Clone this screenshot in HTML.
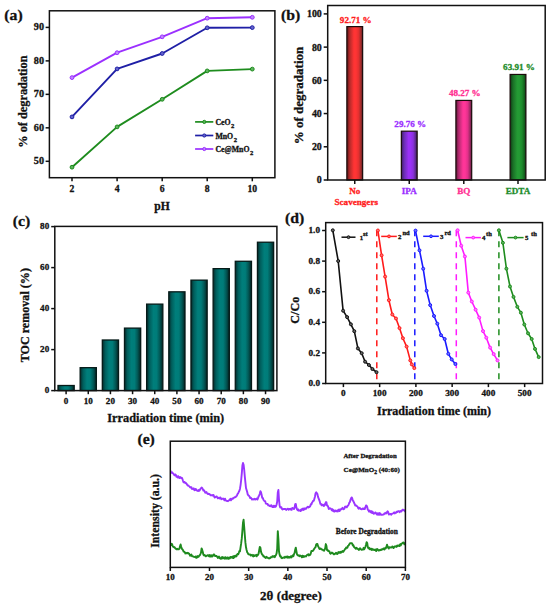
<!DOCTYPE html>
<html><head><meta charset="utf-8"><style>
html,body{margin:0;padding:0;background:#fff;}
body{width:550px;height:608px;overflow:hidden;}
svg{display:block;}
svg text{font-family:"Liberation Serif", serif;font-weight:bold;stroke-width:0.3;}
</style></head><body>
<svg width="550" height="608" viewBox="0 0 550 608">
<rect width="550" height="608" fill="#fff"/>
<defs>
<linearGradient id="g_red" x1="0" x2="1" y1="0" y2="0"><stop offset="0" stop-color="#5a1616"/><stop offset="0.18" stop-color="#b42a2a"/><stop offset="0.45" stop-color="#ff3434"/><stop offset="0.58" stop-color="#ff3434"/><stop offset="0.75" stop-color="#e23030"/><stop offset="0.9" stop-color="#9a2c2c"/><stop offset="1" stop-color="#5a1c1c"/></linearGradient>
<linearGradient id="g_pur" x1="0" x2="1" y1="0" y2="0"><stop offset="0" stop-color="#3e1c66"/><stop offset="0.18" stop-color="#6a2eb4"/><stop offset="0.45" stop-color="#9a30f6"/><stop offset="0.58" stop-color="#9a30f6"/><stop offset="0.75" stop-color="#8a30dc"/><stop offset="0.9" stop-color="#5c2a8c"/><stop offset="1" stop-color="#3a1c58"/></linearGradient>
<linearGradient id="g_pnk" x1="0" x2="1" y1="0" y2="0"><stop offset="0" stop-color="#5e1838"/><stop offset="0.18" stop-color="#b42a70"/><stop offset="0.45" stop-color="#ff3598"/><stop offset="0.58" stop-color="#ff3598"/><stop offset="0.75" stop-color="#e2308a"/><stop offset="0.9" stop-color="#9a2a62"/><stop offset="1" stop-color="#5a1a3a"/></linearGradient>
<linearGradient id="g_grn" x1="0" x2="1" y1="0" y2="0"><stop offset="0" stop-color="#0c3a12"/><stop offset="0.18" stop-color="#1a6e26"/><stop offset="0.45" stop-color="#249a34"/><stop offset="0.58" stop-color="#249a34"/><stop offset="0.75" stop-color="#1e8a2c"/><stop offset="0.9" stop-color="#15621e"/><stop offset="1" stop-color="#0c3a12"/></linearGradient>
<linearGradient id="g_teal" x1="0" x2="1" y1="0" y2="0"><stop offset="0" stop-color="#052a2a"/><stop offset="0.18" stop-color="#005e5c"/><stop offset="0.42" stop-color="#007e7b"/><stop offset="0.62" stop-color="#007c79"/><stop offset="0.8" stop-color="#025a58"/><stop offset="0.92" stop-color="#033a38"/><stop offset="1" stop-color="#022424"/></linearGradient>
</defs>
<text x="0" y="0" font-size="15" text-anchor="start" fill="#111" stroke="#111" transform="translate(4.3 19.6) scale(1.05 1)">(a)</text>
<rect x="49.4" y="10.8" width="225.5" height="166.9" fill="none" stroke="#111" stroke-width="1.5"/>
<line x1="45.6" y1="161.3" x2="49.4" y2="161.3" stroke="#111" stroke-width="1.5"/>
<text x="44" y="164.3" font-size="10.2" text-anchor="end" fill="#111" stroke="#111">50</text>
<line x1="45.6" y1="127.83" x2="49.4" y2="127.83" stroke="#111" stroke-width="1.5"/>
<text x="44" y="130.83" font-size="10.2" text-anchor="end" fill="#111" stroke="#111">60</text>
<line x1="45.6" y1="94.35" x2="49.4" y2="94.35" stroke="#111" stroke-width="1.5"/>
<text x="44" y="97.35" font-size="10.2" text-anchor="end" fill="#111" stroke="#111">70</text>
<line x1="45.6" y1="60.88" x2="49.4" y2="60.88" stroke="#111" stroke-width="1.5"/>
<text x="44" y="63.88" font-size="10.2" text-anchor="end" fill="#111" stroke="#111">80</text>
<line x1="45.6" y1="27.4" x2="49.4" y2="27.4" stroke="#111" stroke-width="1.5"/>
<text x="44" y="30.4" font-size="10.2" text-anchor="end" fill="#111" stroke="#111">90</text>
<line x1="72" y1="177.7" x2="72" y2="181.3" stroke="#111" stroke-width="1.5"/>
<text x="72" y="191.6" font-size="9.7" text-anchor="middle" fill="#111" stroke="#111">2</text>
<line x1="117.1" y1="177.7" x2="117.1" y2="181.3" stroke="#111" stroke-width="1.5"/>
<text x="117.1" y="191.6" font-size="9.7" text-anchor="middle" fill="#111" stroke="#111">4</text>
<line x1="162.2" y1="177.7" x2="162.2" y2="181.3" stroke="#111" stroke-width="1.5"/>
<text x="162.2" y="191.6" font-size="9.7" text-anchor="middle" fill="#111" stroke="#111">6</text>
<line x1="207.2" y1="177.7" x2="207.2" y2="181.3" stroke="#111" stroke-width="1.5"/>
<text x="207.2" y="191.6" font-size="9.7" text-anchor="middle" fill="#111" stroke="#111">8</text>
<line x1="252.3" y1="177.7" x2="252.3" y2="181.3" stroke="#111" stroke-width="1.5"/>
<text x="252.3" y="191.6" font-size="9.7" text-anchor="middle" fill="#111" stroke="#111">10</text>
<text x="162" y="210.2" font-size="11.6" text-anchor="middle" fill="#111" stroke="#111">pH</text>
<text x="27.2" y="101.6" font-size="12.3" text-anchor="middle" fill="#111" stroke="#111" transform="rotate(-90 27.2 101.6)">% of degradation</text>
<polyline points="72,167.2 117.1,126.9 162.2,99.3 207.2,70.9 252.3,69.1" fill="none" stroke="#1e8c1e" stroke-width="1.9" stroke-linejoin="round"/>
<circle cx="72" cy="167.2" r="1.9" fill="#5cb45c" stroke="#1e8c1e" stroke-width="1"/>
<circle cx="117.1" cy="126.9" r="1.9" fill="#5cb45c" stroke="#1e8c1e" stroke-width="1"/>
<circle cx="162.2" cy="99.3" r="1.9" fill="#5cb45c" stroke="#1e8c1e" stroke-width="1"/>
<circle cx="207.2" cy="70.9" r="1.9" fill="#5cb45c" stroke="#1e8c1e" stroke-width="1"/>
<circle cx="252.3" cy="69.1" r="1.9" fill="#5cb45c" stroke="#1e8c1e" stroke-width="1"/>
<polyline points="72,116.9 117.1,68.9 162.2,53.5 207.2,27.8 252.3,27.6" fill="none" stroke="#1f1fa6" stroke-width="1.9" stroke-linejoin="round"/>
<circle cx="72" cy="116.9" r="1.9" fill="#6464cc" stroke="#1f1fa6" stroke-width="1"/>
<circle cx="117.1" cy="68.9" r="1.9" fill="#6464cc" stroke="#1f1fa6" stroke-width="1"/>
<circle cx="162.2" cy="53.5" r="1.9" fill="#6464cc" stroke="#1f1fa6" stroke-width="1"/>
<circle cx="207.2" cy="27.8" r="1.9" fill="#6464cc" stroke="#1f1fa6" stroke-width="1"/>
<circle cx="252.3" cy="27.6" r="1.9" fill="#6464cc" stroke="#1f1fa6" stroke-width="1"/>
<polyline points="72,77.6 117.1,52.7 162.2,36.8 207.2,18.2 252.3,17.3" fill="none" stroke="#9b30ff" stroke-width="1.9" stroke-linejoin="round"/>
<circle cx="72" cy="77.6" r="1.9" fill="#c184ff" stroke="#9b30ff" stroke-width="1"/>
<circle cx="117.1" cy="52.7" r="1.9" fill="#c184ff" stroke="#9b30ff" stroke-width="1"/>
<circle cx="162.2" cy="36.8" r="1.9" fill="#c184ff" stroke="#9b30ff" stroke-width="1"/>
<circle cx="207.2" cy="18.2" r="1.9" fill="#c184ff" stroke="#9b30ff" stroke-width="1"/>
<circle cx="252.3" cy="17.3" r="1.9" fill="#c184ff" stroke="#9b30ff" stroke-width="1"/>
<line x1="195.1" y1="121.9" x2="213.3" y2="121.9" stroke="#1e8c1e" stroke-width="1.7"/>
<circle cx="204.3" cy="121.9" r="1.6" fill="#5cb45c" stroke="#1e8c1e" stroke-width="1"/>
<text x="215.4" y="124.9" font-size="7.8" fill="#111" stroke="#111">CeO<tspan font-size="6.6" dx="0.5" dy="3.0">2</tspan></text>
<line x1="195.1" y1="135.5" x2="213.3" y2="135.5" stroke="#1f1fa6" stroke-width="1.7"/>
<circle cx="204.3" cy="135.5" r="1.6" fill="#6464cc" stroke="#1f1fa6" stroke-width="1"/>
<text x="215.4" y="138.5" font-size="7.8" fill="#111" stroke="#111">MnO<tspan font-size="6.6" dx="0.5" dy="3.0">2</tspan></text>
<line x1="195.1" y1="149" x2="213.3" y2="149" stroke="#9b30ff" stroke-width="1.7"/>
<circle cx="204.3" cy="149" r="1.6" fill="#c184ff" stroke="#9b30ff" stroke-width="1"/>
<text x="215.4" y="152" font-size="7.8" fill="#111" stroke="#111">Ce@MnO<tspan font-size="6.6" dx="0.5" dy="3.0">2</tspan></text>
<text x="0" y="0" font-size="15" text-anchor="start" fill="#111" stroke="#111" transform="translate(281 19.6) scale(1.05 1)">(b)</text>
<line x1="323.7" y1="180" x2="327.7" y2="180" stroke="#111" stroke-width="1.5"/>
<text x="321.8" y="183.4" font-size="9.9" text-anchor="end" fill="#111" stroke="#111">0</text>
<line x1="323.7" y1="146.78" x2="327.7" y2="146.78" stroke="#111" stroke-width="1.5"/>
<text x="321.8" y="150.18" font-size="9.9" text-anchor="end" fill="#111" stroke="#111">20</text>
<line x1="323.7" y1="113.56" x2="327.7" y2="113.56" stroke="#111" stroke-width="1.5"/>
<text x="321.8" y="116.96" font-size="9.9" text-anchor="end" fill="#111" stroke="#111">40</text>
<line x1="323.7" y1="80.34" x2="327.7" y2="80.34" stroke="#111" stroke-width="1.5"/>
<text x="321.8" y="83.74" font-size="9.9" text-anchor="end" fill="#111" stroke="#111">60</text>
<line x1="323.7" y1="47.12" x2="327.7" y2="47.12" stroke="#111" stroke-width="1.5"/>
<text x="321.8" y="50.52" font-size="9.9" text-anchor="end" fill="#111" stroke="#111">80</text>
<line x1="323.7" y1="13.9" x2="327.7" y2="13.9" stroke="#111" stroke-width="1.5"/>
<text x="321.8" y="17.3" font-size="9.9" text-anchor="end" fill="#111" stroke="#111">100</text>
<text x="302.7" y="95.5" font-size="13" text-anchor="middle" fill="#111" stroke="#111" transform="rotate(-90 302.7 95.5)">% of degradation</text>
<rect x="346.85" y="26.61" width="15.8" height="153.39" fill="url(#g_red)" stroke="#1a0a0a" stroke-width="1.2"/>
<line x1="354.75" y1="180" x2="354.75" y2="184" stroke="#111" stroke-width="1.5"/>
<text x="355.75" y="22.61" font-size="9.1" text-anchor="middle" fill="#ff1c1c" stroke="#ff1c1c">92.71 %</text>
<text x="354.75" y="193.6" font-size="9.1" text-anchor="middle" fill="#ff1c1c" stroke="#ff1c1c">No</text>
<text x="356.25" y="205.3" font-size="9.1" text-anchor="middle" fill="#ff1c1c" stroke="#ff1c1c">Scavengers</text>
<rect x="401.35" y="131.17" width="15.8" height="48.83" fill="url(#g_pur)" stroke="#1a0a0a" stroke-width="1.2"/>
<line x1="409.25" y1="180" x2="409.25" y2="184" stroke="#111" stroke-width="1.5"/>
<text x="410.25" y="127.17" font-size="9.1" text-anchor="middle" fill="#9b30ff" stroke="#9b30ff">29.76 %</text>
<text x="409.25" y="194.3" font-size="9.1" text-anchor="middle" fill="#9b30ff" stroke="#9b30ff">IPA</text>
<rect x="455.9" y="100.42" width="15.8" height="79.58" fill="url(#g_pnk)" stroke="#1a0a0a" stroke-width="1.2"/>
<line x1="463.8" y1="180" x2="463.8" y2="184" stroke="#111" stroke-width="1.5"/>
<text x="464.8" y="96.42" font-size="9.1" text-anchor="middle" fill="#ff2f93" stroke="#ff2f93">48.27 %</text>
<text x="463.8" y="194.3" font-size="9.1" text-anchor="middle" fill="#ff2f93" stroke="#ff2f93">BQ</text>
<rect x="510.1" y="74.45" width="15.8" height="105.55" fill="url(#g_grn)" stroke="#1a0a0a" stroke-width="1.2"/>
<line x1="518" y1="180" x2="518" y2="184" stroke="#111" stroke-width="1.5"/>
<text x="519" y="70.45" font-size="9.1" text-anchor="middle" fill="#1e8c2a" stroke="#1e8c2a">63.91 %</text>
<text x="518" y="194.3" font-size="9.1" text-anchor="middle" fill="#1e8c2a" stroke="#1e8c2a">EDTA</text>
<rect x="327.7" y="5.5" width="217.5" height="174.5" fill="none" stroke="#111" stroke-width="1.5"/>
<text x="0" y="0" font-size="15" text-anchor="start" fill="#111" stroke="#111" transform="translate(12.8 225.6) scale(1.05 1)">(c)</text>
<line x1="51.2" y1="390.6" x2="54.8" y2="390.6" stroke="#111" stroke-width="1.5"/>
<text x="49.2" y="393.3" font-size="9.1" text-anchor="end" fill="#111" stroke="#111">0</text>
<line x1="51.2" y1="349.6" x2="54.8" y2="349.6" stroke="#111" stroke-width="1.5"/>
<text x="49.2" y="352.3" font-size="9.1" text-anchor="end" fill="#111" stroke="#111">20</text>
<line x1="51.2" y1="308.6" x2="54.8" y2="308.6" stroke="#111" stroke-width="1.5"/>
<text x="49.2" y="311.3" font-size="9.1" text-anchor="end" fill="#111" stroke="#111">40</text>
<line x1="51.2" y1="267.6" x2="54.8" y2="267.6" stroke="#111" stroke-width="1.5"/>
<text x="49.2" y="270.3" font-size="9.1" text-anchor="end" fill="#111" stroke="#111">60</text>
<line x1="51.2" y1="226.6" x2="54.8" y2="226.6" stroke="#111" stroke-width="1.5"/>
<text x="49.2" y="229.3" font-size="9.1" text-anchor="end" fill="#111" stroke="#111">80</text>
<rect x="58" y="385.51" width="16.2" height="5.09" fill="url(#g_teal)" stroke="#061a18" stroke-width="1.3"/>
<line x1="66.1" y1="390.6" x2="66.1" y2="394.2" stroke="#111" stroke-width="1.5"/>
<text x="66.1" y="404.2" font-size="9.1" text-anchor="middle" fill="#111" stroke="#111">0</text>
<rect x="80.16" y="367.68" width="16.2" height="22.93" fill="url(#g_teal)" stroke="#061a18" stroke-width="1.3"/>
<line x1="88.26" y1="390.6" x2="88.26" y2="394.2" stroke="#111" stroke-width="1.5"/>
<text x="88.26" y="404.2" font-size="9.1" text-anchor="middle" fill="#111" stroke="#111">10</text>
<rect x="102.32" y="340" width="16.2" height="50.6" fill="url(#g_teal)" stroke="#061a18" stroke-width="1.3"/>
<line x1="110.42" y1="390.6" x2="110.42" y2="394.2" stroke="#111" stroke-width="1.5"/>
<text x="110.42" y="404.2" font-size="9.1" text-anchor="middle" fill="#111" stroke="#111">20</text>
<rect x="124.48" y="328.11" width="16.2" height="62.49" fill="url(#g_teal)" stroke="#061a18" stroke-width="1.3"/>
<line x1="132.58" y1="390.6" x2="132.58" y2="394.2" stroke="#111" stroke-width="1.5"/>
<text x="132.58" y="404.2" font-size="9.1" text-anchor="middle" fill="#111" stroke="#111">30</text>
<rect x="146.64" y="304.12" width="16.2" height="86.48" fill="url(#g_teal)" stroke="#061a18" stroke-width="1.3"/>
<line x1="154.74" y1="390.6" x2="154.74" y2="394.2" stroke="#111" stroke-width="1.5"/>
<text x="154.74" y="404.2" font-size="9.1" text-anchor="middle" fill="#111" stroke="#111">40</text>
<rect x="168.8" y="291.82" width="16.2" height="98.78" fill="url(#g_teal)" stroke="#061a18" stroke-width="1.3"/>
<line x1="176.9" y1="390.6" x2="176.9" y2="394.2" stroke="#111" stroke-width="1.5"/>
<text x="176.9" y="404.2" font-size="9.1" text-anchor="middle" fill="#111" stroke="#111">50</text>
<rect x="190.96" y="280.14" width="16.2" height="110.46" fill="url(#g_teal)" stroke="#061a18" stroke-width="1.3"/>
<line x1="199.06" y1="390.6" x2="199.06" y2="394.2" stroke="#111" stroke-width="1.5"/>
<text x="199.06" y="404.2" font-size="9.1" text-anchor="middle" fill="#111" stroke="#111">60</text>
<rect x="213.12" y="268.66" width="16.2" height="121.94" fill="url(#g_teal)" stroke="#061a18" stroke-width="1.3"/>
<line x1="221.22" y1="390.6" x2="221.22" y2="394.2" stroke="#111" stroke-width="1.5"/>
<text x="221.22" y="404.2" font-size="9.1" text-anchor="middle" fill="#111" stroke="#111">70</text>
<rect x="235.28" y="261.28" width="16.2" height="129.32" fill="url(#g_teal)" stroke="#061a18" stroke-width="1.3"/>
<line x1="243.38" y1="390.6" x2="243.38" y2="394.2" stroke="#111" stroke-width="1.5"/>
<text x="243.38" y="404.2" font-size="9.1" text-anchor="middle" fill="#111" stroke="#111">80</text>
<rect x="257.44" y="242.22" width="16.2" height="148.38" fill="url(#g_teal)" stroke="#061a18" stroke-width="1.3"/>
<line x1="265.54" y1="390.6" x2="265.54" y2="394.2" stroke="#111" stroke-width="1.5"/>
<text x="265.54" y="404.2" font-size="9.1" text-anchor="middle" fill="#111" stroke="#111">90</text>
<rect x="54.8" y="226.4" width="222.1" height="164.2" fill="none" stroke="#111" stroke-width="1.5"/>
<text x="165.7" y="422.4" font-size="12.3" text-anchor="middle" fill="#111" stroke="#111">Irradiation time (min)</text>
<text x="28.8" y="315.2" font-size="12.1" text-anchor="middle" fill="#111" stroke="#111" transform="rotate(-90 28.8 315.2)">TOC removal (%)</text>
<text x="0" y="0" font-size="15" text-anchor="start" fill="#111" stroke="#111" transform="translate(285 222.5) scale(1.05 1)">(d)</text>
<rect x="325.7" y="222.6" width="216.8" height="160.9" fill="none" stroke="#111" stroke-width="1.5"/>
<line x1="322.1" y1="383.5" x2="325.7" y2="383.5" stroke="#111" stroke-width="1.5"/>
<text x="320" y="386.1" font-size="9.2" text-anchor="end" fill="#111" stroke="#111">0.0</text>
<line x1="322.1" y1="352.9" x2="325.7" y2="352.9" stroke="#111" stroke-width="1.5"/>
<text x="320" y="355.5" font-size="9.2" text-anchor="end" fill="#111" stroke="#111">0.2</text>
<line x1="322.1" y1="322.3" x2="325.7" y2="322.3" stroke="#111" stroke-width="1.5"/>
<text x="320" y="324.9" font-size="9.2" text-anchor="end" fill="#111" stroke="#111">0.4</text>
<line x1="322.1" y1="291.7" x2="325.7" y2="291.7" stroke="#111" stroke-width="1.5"/>
<text x="320" y="294.3" font-size="9.2" text-anchor="end" fill="#111" stroke="#111">0.6</text>
<line x1="322.1" y1="261.1" x2="325.7" y2="261.1" stroke="#111" stroke-width="1.5"/>
<text x="320" y="263.7" font-size="9.2" text-anchor="end" fill="#111" stroke="#111">0.8</text>
<line x1="322.1" y1="230.5" x2="325.7" y2="230.5" stroke="#111" stroke-width="1.5"/>
<text x="320" y="233.1" font-size="9.2" text-anchor="end" fill="#111" stroke="#111">1.0</text>
<line x1="343.4" y1="383.5" x2="343.4" y2="387.1" stroke="#111" stroke-width="1.5"/>
<text x="343.4" y="396.2" font-size="9.2" text-anchor="middle" fill="#111" stroke="#111">0</text>
<line x1="379.65" y1="383.5" x2="379.65" y2="387.1" stroke="#111" stroke-width="1.5"/>
<text x="379.65" y="396.2" font-size="9.2" text-anchor="middle" fill="#111" stroke="#111">100</text>
<line x1="415.9" y1="383.5" x2="415.9" y2="387.1" stroke="#111" stroke-width="1.5"/>
<text x="415.9" y="396.2" font-size="9.2" text-anchor="middle" fill="#111" stroke="#111">200</text>
<line x1="452.15" y1="383.5" x2="452.15" y2="387.1" stroke="#111" stroke-width="1.5"/>
<text x="452.15" y="396.2" font-size="9.2" text-anchor="middle" fill="#111" stroke="#111">300</text>
<line x1="488.4" y1="383.5" x2="488.4" y2="387.1" stroke="#111" stroke-width="1.5"/>
<text x="488.4" y="396.2" font-size="9.2" text-anchor="middle" fill="#111" stroke="#111">400</text>
<line x1="524.65" y1="383.5" x2="524.65" y2="387.1" stroke="#111" stroke-width="1.5"/>
<text x="524.65" y="396.2" font-size="9.2" text-anchor="middle" fill="#111" stroke="#111">500</text>
<text x="434" y="414.6" font-size="12" text-anchor="middle" fill="#111" stroke="#111">Irradiation time (min)</text>
<text x="298.6" y="310.2" font-size="12.1" text-anchor="middle" fill="#111" stroke="#111" transform="rotate(-90 298.6 310.2)">C/Co</text>
<line x1="376.8" y1="230.2" x2="376.8" y2="380" stroke="#ff1a1a" stroke-width="1.5" stroke-dasharray="6 5"/>
<line x1="414.8" y1="230.2" x2="414.8" y2="380" stroke="#1a1aff" stroke-width="1.5" stroke-dasharray="6 5"/>
<line x1="456.3" y1="230.2" x2="456.3" y2="380" stroke="#ff1aff" stroke-width="1.5" stroke-dasharray="6 5"/>
<line x1="498.9" y1="230.2" x2="498.9" y2="380" stroke="#1e8c1e" stroke-width="1.5" stroke-dasharray="6 5"/>
<polyline points="332.8,230.3 338.2,261 343.1,310.7 347.1,317.1 350.9,324.3 354.3,331.2 357.9,348.4 361.7,353.2 365.1,361.7 368.9,365 372.4,369 376.5,372.2" fill="none" stroke="#111111" stroke-width="1.6" stroke-linejoin="round"/>
<circle cx="332.8" cy="230.3" r="1.5" fill="#666666" stroke="#111111" stroke-width="1"/>
<circle cx="338.2" cy="261" r="1.5" fill="#666666" stroke="#111111" stroke-width="1"/>
<circle cx="343.1" cy="310.7" r="1.5" fill="#666666" stroke="#111111" stroke-width="1"/>
<circle cx="347.1" cy="317.1" r="1.5" fill="#666666" stroke="#111111" stroke-width="1"/>
<circle cx="350.9" cy="324.3" r="1.5" fill="#666666" stroke="#111111" stroke-width="1"/>
<circle cx="354.3" cy="331.2" r="1.5" fill="#666666" stroke="#111111" stroke-width="1"/>
<circle cx="357.9" cy="348.4" r="1.5" fill="#666666" stroke="#111111" stroke-width="1"/>
<circle cx="361.7" cy="353.2" r="1.5" fill="#666666" stroke="#111111" stroke-width="1"/>
<circle cx="365.1" cy="361.7" r="1.5" fill="#666666" stroke="#111111" stroke-width="1"/>
<circle cx="368.9" cy="365" r="1.5" fill="#666666" stroke="#111111" stroke-width="1"/>
<circle cx="372.4" cy="369" r="1.5" fill="#666666" stroke="#111111" stroke-width="1"/>
<circle cx="376.5" cy="372.2" r="1.5" fill="#666666" stroke="#111111" stroke-width="1"/>
<polyline points="377.9,230.5 381.6,255.3 385.1,276.6 388.9,300.2 392.3,314.5 396,318.5 399.5,328.1 402.9,338.2 406.6,346.6 410.3,360.4 411.8,364.4 414.3,368.1" fill="none" stroke="#ff1a1a" stroke-width="1.6" stroke-linejoin="round"/>
<circle cx="377.9" cy="230.5" r="1.5" fill="#ff7070" stroke="#ff1a1a" stroke-width="1"/>
<circle cx="381.6" cy="255.3" r="1.5" fill="#ff7070" stroke="#ff1a1a" stroke-width="1"/>
<circle cx="385.1" cy="276.6" r="1.5" fill="#ff7070" stroke="#ff1a1a" stroke-width="1"/>
<circle cx="388.9" cy="300.2" r="1.5" fill="#ff7070" stroke="#ff1a1a" stroke-width="1"/>
<circle cx="392.3" cy="314.5" r="1.5" fill="#ff7070" stroke="#ff1a1a" stroke-width="1"/>
<circle cx="396" cy="318.5" r="1.5" fill="#ff7070" stroke="#ff1a1a" stroke-width="1"/>
<circle cx="399.5" cy="328.1" r="1.5" fill="#ff7070" stroke="#ff1a1a" stroke-width="1"/>
<circle cx="402.9" cy="338.2" r="1.5" fill="#ff7070" stroke="#ff1a1a" stroke-width="1"/>
<circle cx="406.6" cy="346.6" r="1.5" fill="#ff7070" stroke="#ff1a1a" stroke-width="1"/>
<circle cx="410.3" cy="360.4" r="1.5" fill="#ff7070" stroke="#ff1a1a" stroke-width="1"/>
<circle cx="411.8" cy="364.4" r="1.5" fill="#ff7070" stroke="#ff1a1a" stroke-width="1"/>
<circle cx="414.3" cy="368.1" r="1.5" fill="#ff7070" stroke="#ff1a1a" stroke-width="1"/>
<polyline points="415.5,230.6 419.5,250.3 423.2,268.7 426.6,290.8 430.2,305.1 434,316 437.3,323.7 441,335.2 444.7,339 448.3,353.8 451.7,359.4 455.4,364" fill="none" stroke="#1a1aff" stroke-width="1.6" stroke-linejoin="round"/>
<circle cx="415.5" cy="230.6" r="1.5" fill="#7070ff" stroke="#1a1aff" stroke-width="1"/>
<circle cx="419.5" cy="250.3" r="1.5" fill="#7070ff" stroke="#1a1aff" stroke-width="1"/>
<circle cx="423.2" cy="268.7" r="1.5" fill="#7070ff" stroke="#1a1aff" stroke-width="1"/>
<circle cx="426.6" cy="290.8" r="1.5" fill="#7070ff" stroke="#1a1aff" stroke-width="1"/>
<circle cx="430.2" cy="305.1" r="1.5" fill="#7070ff" stroke="#1a1aff" stroke-width="1"/>
<circle cx="434" cy="316" r="1.5" fill="#7070ff" stroke="#1a1aff" stroke-width="1"/>
<circle cx="437.3" cy="323.7" r="1.5" fill="#7070ff" stroke="#1a1aff" stroke-width="1"/>
<circle cx="441" cy="335.2" r="1.5" fill="#7070ff" stroke="#1a1aff" stroke-width="1"/>
<circle cx="444.7" cy="339" r="1.5" fill="#7070ff" stroke="#1a1aff" stroke-width="1"/>
<circle cx="448.3" cy="353.8" r="1.5" fill="#7070ff" stroke="#1a1aff" stroke-width="1"/>
<circle cx="451.7" cy="359.4" r="1.5" fill="#7070ff" stroke="#1a1aff" stroke-width="1"/>
<circle cx="455.4" cy="364" r="1.5" fill="#7070ff" stroke="#1a1aff" stroke-width="1"/>
<polyline points="457.6,230.3 461.2,245.7 464.9,256.5 468.3,292.6 471.8,301.5 475.6,309.7 479.2,317.6 483,331.1 486.3,337.7 490.1,347.6 493.7,354.1 497.5,360.4" fill="none" stroke="#ff1aff" stroke-width="1.6" stroke-linejoin="round"/>
<circle cx="457.6" cy="230.3" r="1.5" fill="#ff80ff" stroke="#ff1aff" stroke-width="1"/>
<circle cx="461.2" cy="245.7" r="1.5" fill="#ff80ff" stroke="#ff1aff" stroke-width="1"/>
<circle cx="464.9" cy="256.5" r="1.5" fill="#ff80ff" stroke="#ff1aff" stroke-width="1"/>
<circle cx="468.3" cy="292.6" r="1.5" fill="#ff80ff" stroke="#ff1aff" stroke-width="1"/>
<circle cx="471.8" cy="301.5" r="1.5" fill="#ff80ff" stroke="#ff1aff" stroke-width="1"/>
<circle cx="475.6" cy="309.7" r="1.5" fill="#ff80ff" stroke="#ff1aff" stroke-width="1"/>
<circle cx="479.2" cy="317.6" r="1.5" fill="#ff80ff" stroke="#ff1aff" stroke-width="1"/>
<circle cx="483" cy="331.1" r="1.5" fill="#ff80ff" stroke="#ff1aff" stroke-width="1"/>
<circle cx="486.3" cy="337.7" r="1.5" fill="#ff80ff" stroke="#ff1aff" stroke-width="1"/>
<circle cx="490.1" cy="347.6" r="1.5" fill="#ff80ff" stroke="#ff1aff" stroke-width="1"/>
<circle cx="493.7" cy="354.1" r="1.5" fill="#ff80ff" stroke="#ff1aff" stroke-width="1"/>
<circle cx="497.5" cy="360.4" r="1.5" fill="#ff80ff" stroke="#ff1aff" stroke-width="1"/>
<polyline points="498.9,230.3 502.9,242.8 506.4,268.7 510,286.5 513.5,296.9 517.3,306.8 520.9,312.7 524.3,324.5 528,333.3 531.7,339 535,348.9 538.7,357.1" fill="none" stroke="#1e8c1e" stroke-width="1.6" stroke-linejoin="round"/>
<circle cx="498.9" cy="230.3" r="1.5" fill="#5cb45c" stroke="#1e8c1e" stroke-width="1"/>
<circle cx="502.9" cy="242.8" r="1.5" fill="#5cb45c" stroke="#1e8c1e" stroke-width="1"/>
<circle cx="506.4" cy="268.7" r="1.5" fill="#5cb45c" stroke="#1e8c1e" stroke-width="1"/>
<circle cx="510" cy="286.5" r="1.5" fill="#5cb45c" stroke="#1e8c1e" stroke-width="1"/>
<circle cx="513.5" cy="296.9" r="1.5" fill="#5cb45c" stroke="#1e8c1e" stroke-width="1"/>
<circle cx="517.3" cy="306.8" r="1.5" fill="#5cb45c" stroke="#1e8c1e" stroke-width="1"/>
<circle cx="520.9" cy="312.7" r="1.5" fill="#5cb45c" stroke="#1e8c1e" stroke-width="1"/>
<circle cx="524.3" cy="324.5" r="1.5" fill="#5cb45c" stroke="#1e8c1e" stroke-width="1"/>
<circle cx="528" cy="333.3" r="1.5" fill="#5cb45c" stroke="#1e8c1e" stroke-width="1"/>
<circle cx="531.7" cy="339" r="1.5" fill="#5cb45c" stroke="#1e8c1e" stroke-width="1"/>
<circle cx="535" cy="348.9" r="1.5" fill="#5cb45c" stroke="#1e8c1e" stroke-width="1"/>
<circle cx="538.7" cy="357.1" r="1.5" fill="#5cb45c" stroke="#1e8c1e" stroke-width="1"/>
<line x1="341.5" y1="237.2" x2="355.5" y2="237.2" stroke="#111111" stroke-width="1.5"/>
<circle cx="348.5" cy="237.2" r="1.4" fill="#666666" stroke="#111111" stroke-width="1"/>
<text x="359.7" y="239.6" font-size="6.8" text-anchor="start" fill="#111" stroke="#111">1</text>
<text x="362.9" y="235.8" font-size="6.6" text-anchor="start" fill="#111" stroke="#111">st</text>
<line x1="381.2" y1="236.4" x2="396.8" y2="236.4" stroke="#ff1a1a" stroke-width="1.5"/>
<circle cx="389" cy="236.4" r="1.4" fill="#ff7070" stroke="#ff1a1a" stroke-width="1"/>
<text x="398" y="238.8" font-size="6.8" text-anchor="start" fill="#111" stroke="#111">2</text>
<text x="402.4" y="234.9" font-size="6.6" text-anchor="start" fill="#111" stroke="#111">nd</text>
<line x1="423.2" y1="236.3" x2="438.8" y2="236.3" stroke="#1a1aff" stroke-width="1.5"/>
<circle cx="431" cy="236.3" r="1.4" fill="#7070ff" stroke="#1a1aff" stroke-width="1"/>
<text x="439.9" y="238.8" font-size="6.8" text-anchor="start" fill="#111" stroke="#111">3</text>
<text x="444.4" y="234.7" font-size="6.6" text-anchor="start" fill="#111" stroke="#111">rd</text>
<line x1="465.5" y1="237.6" x2="480.9" y2="237.6" stroke="#ff1aff" stroke-width="1.5"/>
<circle cx="473.2" cy="237.6" r="1.4" fill="#ff80ff" stroke="#ff1aff" stroke-width="1"/>
<text x="482.1" y="240.2" font-size="6.8" text-anchor="start" fill="#111" stroke="#111">4</text>
<text x="486.1" y="236" font-size="6.6" text-anchor="start" fill="#111" stroke="#111">th</text>
<line x1="507.4" y1="237.6" x2="523.6" y2="237.6" stroke="#1e8c1e" stroke-width="1.5"/>
<circle cx="515.5" cy="237.6" r="1.4" fill="#5cb45c" stroke="#1e8c1e" stroke-width="1"/>
<text x="524.9" y="240.2" font-size="6.8" text-anchor="start" fill="#111" stroke="#111">5</text>
<text x="531.1" y="236" font-size="6.6" text-anchor="start" fill="#111" stroke="#111">th</text>
<text x="0" y="0" font-size="15" text-anchor="start" fill="#111" stroke="#111" transform="translate(137.4 444.1) scale(1.05 1)">(e)</text>
<line x1="170.3" y1="567.4" x2="170.3" y2="571" stroke="#111" stroke-width="1.5"/>
<text x="170.3" y="580.2" font-size="9" text-anchor="middle" fill="#111" stroke="#111">10</text>
<line x1="209.48" y1="567.4" x2="209.48" y2="571" stroke="#111" stroke-width="1.5"/>
<text x="209.48" y="580.2" font-size="9" text-anchor="middle" fill="#111" stroke="#111">20</text>
<line x1="248.66" y1="567.4" x2="248.66" y2="571" stroke="#111" stroke-width="1.5"/>
<text x="248.66" y="580.2" font-size="9" text-anchor="middle" fill="#111" stroke="#111">30</text>
<line x1="287.84" y1="567.4" x2="287.84" y2="571" stroke="#111" stroke-width="1.5"/>
<text x="287.84" y="580.2" font-size="9" text-anchor="middle" fill="#111" stroke="#111">40</text>
<line x1="327.02" y1="567.4" x2="327.02" y2="571" stroke="#111" stroke-width="1.5"/>
<text x="327.02" y="580.2" font-size="9" text-anchor="middle" fill="#111" stroke="#111">50</text>
<line x1="366.2" y1="567.4" x2="366.2" y2="571" stroke="#111" stroke-width="1.5"/>
<text x="366.2" y="580.2" font-size="9" text-anchor="middle" fill="#111" stroke="#111">60</text>
<line x1="405.38" y1="567.4" x2="405.38" y2="571" stroke="#111" stroke-width="1.5"/>
<text x="405.38" y="580.2" font-size="9" text-anchor="middle" fill="#111" stroke="#111">70</text>
<text x="291" y="600.3" font-size="13" text-anchor="middle" fill="#111" stroke="#111">2θ (degree)</text>
<text x="158.6" y="510.9" font-size="11.8" text-anchor="middle" fill="#111" stroke="#111" transform="rotate(-90 158.6 510.9)">Intensity (a.u.)</text>
<clipPath id="clipE"><rect x="170.3" y="441.2" width="235.1" height="126.2"/></clipPath>
<g clip-path="url(#clipE)">
<polyline points="170.4,470.6 171,472.51 171.6,472.83 172.2,472.31 172.8,473.27 173.4,473.67 174,474.56 174.6,475.31 175.2,474.4 175.8,474.74 176.4,476.78 177,476.36 177.6,477.38 178.2,476.2 178.8,477.36 179.4,478.05 180,476.94 180.6,477.88 181.2,478.01 181.8,477.69 182.4,478.91 183,480.83 183.6,482.34 184.2,481.87 184.8,482.15 185.4,483.14 186,482.92 186.6,483.87 187.2,484.86 187.8,485.53 188.4,485.55 189,486.1 189.6,486.62 190.2,487.54 190.8,487.44 191.4,487.14 192,489 192.6,488.67 193.2,489.07 193.8,488.38 194.4,490.22 195,490.17 195.6,488.9 196.2,489.52 196.8,490.49 197.4,490.59 198,491.1 198.6,490.08 199.2,490.8 199.8,490.21 200.4,488.85 201,488.24 201.6,487.6 202.2,488.06 202.8,489.1 203.4,490.59 204,490.3 204.6,491.26 205.2,492.76 205.8,492.3 206.4,492.08 207,493.16 207.6,493.77 208.2,494.01 208.8,493.7 209.4,494.11 210,494.53 210.6,495.34 211.2,495.09 211.8,495.11 212.4,495.56 213,494.91 213.6,495.2 214.2,496.78 214.8,497.6 215.4,497 216,496.74 216.6,496.43 217.2,497.22 217.8,498.32 218.4,498.03 219,497.7 219.6,498.47 220.2,497.37 220.8,498.16 221.4,499.26 222,498.73 222.6,498.71 223.2,498.55 223.8,499.32 224.4,500.35 225,498.66 225.6,500.42 226.2,500.69 226.8,501.02 227.4,500.92 228,501.24 228.6,500.46 229.2,500.34 229.8,499.85 230.4,498.87 231,500.26 231.6,499.4 232.2,498.38 232.8,498.69 233.4,498.32 234,497.7 234.6,497.27 235.2,497.19 235.8,496.82 236.4,496.3 237,495.44 237.6,493.85 238.2,493.26 238.8,491.81 239.4,490.75 240,488.68 240.6,484.86 241.2,479.75 241.8,473.29 242.4,465.51 243,463.03 243.6,464.72 244.2,469.75 244.8,476.55 245.4,482.29 246,488.04 246.6,490.11 247.2,492.05 247.8,494.72 248.4,495.39 249,495.78 249.6,496.69 250.2,498.02 250.8,497.77 251.4,498.37 252,499.56 252.6,499.25 253.2,499.13 253.8,499.54 254.4,498.69 255,499.43 255.6,499.44 256.2,498.84 256.8,498.43 257.4,499.59 258,498.11 258.6,496.37 259.2,495.44 259.8,493.79 260.4,491.14 261,492.29 261.6,494.73 262.2,497.7 262.8,497.83 263.4,499.73 264,500.55 264.6,501.15 265.2,501.27 265.8,503.48 266.4,503.77 267,503.83 267.6,503.83 268.2,505.26 268.8,505.31 269.4,505.93 270,505.52 270.6,506.24 271.2,505.17 271.8,505.72 272.4,507.12 273,506.98 273.6,505.86 274.2,506.94 274.8,505.77 275.4,506.83 276,506.08 276.6,504.5 277.2,501.45 277.8,492.37 278.4,490.03 279,499.59 279.6,505.52 280.2,507.47 280.8,507.51 281.4,507.23 282,508.99 282.6,509.49 283.2,509.2 283.8,509.04 284.4,508.99 285,509.12 285.6,508.99 286.2,509.9 286.8,509.39 287.4,508.87 288,508.65 288.6,509.73 289.2,508.94 289.8,509.28 290.4,508.87 291,509.88 291.6,509.84 292.2,507.94 292.8,508.14 293.4,508.22 294,509.09 294.6,507.47 295.2,504.08 295.8,503.93 296.4,507.57 297,509.32 297.6,510.18 298.2,509.38 298.8,510.71 299.4,510.51 300,510.26 300.6,511.09 301.2,509.4 301.8,510.18 302.4,508.7 303,508.65 303.6,509.91 304.2,508.29 304.8,509.14 305.4,508.57 306,508.79 306.6,507.57 307.2,507.22 307.8,506.8 308.4,507.59 309,506.67 309.6,506.93 310.2,506.3 310.8,504.22 311.4,504.37 312,502.64 312.6,501.69 313.2,500.67 313.8,500.77 314.4,498.69 315,496.46 315.6,493.19 316.2,492.37 316.8,493.02 317.4,494.05 318,496.84 318.6,498.4 319.2,499.92 319.8,501.66 320.4,503.92 321,504.01 321.6,505.28 322.2,504.73 322.8,504.62 323.4,505.89 324,506.06 324.6,504.21 325.2,504.75 325.8,502.24 326.4,502.17 327,505.57 327.6,505.52 328.2,506.93 328.8,509.09 329.4,508.44 330,508.18 330.6,508.58 331.2,508.99 331.8,510.24 332.4,509.18 333,511.01 333.6,510.15 334.2,511.53 334.8,511.6 335.4,510.55 336,510.65 336.6,511.28 337.2,510.62 337.8,511.41 338.4,509.88 339,509.5 339.6,511.13 340.2,509.43 340.8,509.7 341.4,509.06 342,508.54 342.6,507.79 343.2,509.24 343.8,509.07 344.4,508.77 345,506.73 345.6,506.56 346.2,507.02 346.8,507.36 347.4,506 348,505.67 348.6,504.81 349.2,502.94 349.8,502.15 350.4,500.11 351,498.51 351.6,497.39 352.2,498.1 352.8,500.69 353.4,501.07 354,502.78 354.6,503.83 355.2,505.46 355.8,505.18 356.4,505.68 357,506.27 357.6,506.72 358.2,508.19 358.8,508.65 359.4,507.79 360,508.15 360.6,508.85 361.2,509.16 361.8,509.36 362.4,508.79 363,508.43 363.6,508.9 364.2,508.45 364.8,509.05 365.4,507.2 366,505.47 366.6,505.72 367.2,506.95 367.8,509.77 368.4,510.19 369,511.53 369.6,510.52 370.2,511.52 370.8,512.36 371.4,511.14 372,513.09 372.6,511.73 373.2,513.11 373.8,513.7 374.4,513.55 375,512.71 375.6,512.45 376.2,513.43 376.8,514.39 377.4,513.3 378,514.66 378.6,513.31 379.2,514.85 379.8,513.1 380.4,513.66 381,514.84 381.6,514.63 382.2,514.83 382.8,514.69 383.4,514.48 384,514.33 384.6,513.24 385.2,513.63 385.8,512.84 386.4,513.39 387,512.16 387.6,511.33 388.2,512.09 388.8,514.46 389.4,514.4 390,514 390.6,514.05 391.2,514.71 391.8,513.88 392.4,513.6 393,513.31 393.6,512.98 394.2,512.33 394.8,513.4 395.4,512.75 396,512.88 396.6,511.67 397.2,512.07 397.8,511.45 398.4,511.23 399,511.29 399.6,512.22 400.2,511.14 400.8,511.05 401.4,511.41 402,510.49 402.6,509.66 403.2,510.03 403.8,509.83 404.4,510.89 405,511.06 405.6,511.89" fill="none" stroke="#9a35ff" stroke-width="1.9" stroke-linejoin="round"/>
<polyline points="170.4,544.41 171,544.98 171.6,543.78 172.2,544.41 172.8,546.48 173.4,546.86 174,547.29 174.6,547.12 175.2,548.26 175.8,548.79 176.4,549.24 177,548.78 177.6,549.33 178.2,549.09 178.8,549.28 179.4,548.67 180,546.36 180.6,544.43 181.2,546.67 181.8,548.63 182.4,549.46 183,550.2 183.6,551.6 184.2,551.7 184.8,552.16 185.4,553.49 186,553.04 186.6,553.38 187.2,552.99 187.8,552.81 188.4,553.66 189,553.52 189.6,554.51 190.2,555.72 190.8,555.3 191.4,554.55 192,556.2 192.6,556.23 193.2,556.34 193.8,556.9 194.4,556.84 195,557.1 195.6,556.44 196.2,557.89 196.8,557.81 197.4,556.03 198,557 198.6,556.64 199.2,555.75 199.8,555.27 200.4,554.05 201,552.6 201.6,548.37 202.2,549.9 202.8,552.05 203.4,554.72 204,555.52 204.6,555.05 205.2,555.49 205.8,556.34 206.4,556.03 207,555.62 207.6,555.13 208.2,555.36 208.8,556.13 209.4,555.07 210,556.55 210.6,555.26 211.2,556.52 211.8,555.25 212.4,556.42 213,555.61 213.6,554.56 214.2,554.54 214.8,555.69 215.4,556.15 216,555.95 216.6,556 217.2,556.83 217.8,557.88 218.4,557.45 219,556.54 219.6,558.21 220.2,558.2 220.8,558.74 221.4,557.35 222,558.47 222.6,557.11 223.2,558.31 223.8,557.56 224.4,557.47 225,558.77 225.6,557.24 226.2,558.07 226.8,558.73 227.4,557.51 228,557.43 228.6,558.76 229.2,557.83 229.8,558.37 230.4,556.9 231,557.45 231.6,556.95 232.2,557.83 232.8,556.51 233.4,558.1 234,556.07 234.6,557.28 235.2,555.6 235.8,555.7 236.4,556.4 237,554.6 237.6,554.06 238.2,554.34 238.8,552.79 239.4,550.94 240,551.23 240.6,547.15 241.2,543.23 241.8,538.14 242.4,530.58 243,522.61 243.6,519.74 244.2,527.02 244.8,535.05 245.4,542.4 246,547.31 246.6,550.02 247.2,552.16 247.8,553.12 248.4,554.21 249,554.54 249.6,554.55 250.2,554.41 250.8,555.56 251.4,555.09 252,554.83 252.6,555.6 253.2,556.5 253.8,555.02 254.4,555.93 255,555.51 255.6,555.69 256.2,554.83 256.8,556.29 257.4,554.66 258,554.91 258.6,553.53 259.2,550.25 259.8,546.98 260.4,547.62 261,551.61 261.6,553.52 262.2,554.66 262.8,554.99 263.4,556.35 264,556.28 264.6,557.37 265.2,557.46 265.8,557.93 266.4,556.75 267,557.5 267.6,557.43 268.2,558.28 268.8,558.24 269.4,558.47 270,558.17 270.6,557.14 271.2,557.33 271.8,557.4 272.4,556.2 273,556.09 273.6,556.78 274.2,556.09 274.8,557.15 275.4,555.86 276,554.91 276.6,553.48 277.2,548.57 277.8,531.14 278.4,539.34 279,551.55 279.6,554.6 280.2,556.49 280.8,556.21 281.4,557.91 282,558.23 282.6,557.9 283.2,557.41 283.8,557.64 284.4,557.77 285,556.65 285.6,557.32 286.2,557.46 286.8,556.69 287.4,556.43 288,557.76 288.6,556.8 289.2,557 289.8,557.7 290.4,556.97 291,556.19 291.6,557.47 292.2,556.1 292.8,555.17 293.4,556.13 294,554.23 294.6,552.91 295.2,549.69 295.8,547.6 296.4,551.15 297,554.31 297.6,555.09 298.2,555.64 298.8,555.35 299.4,556.29 300,555.38 300.6,555.9 301.2,556.16 301.8,557.35 302.4,555.7 303,557.11 303.6,556.03 304.2,556.75 304.8,556.18 305.4,556.11 306,556.47 306.6,555.53 307.2,554.76 307.8,554.52 308.4,554.2 309,555.48 309.6,554.79 310.2,554.91 310.8,553.37 311.4,550.99 312,551.17 312.6,551.09 313.2,550.57 313.8,549.57 314.4,548.54 315,547.7 315.6,547.03 316.2,544.47 316.8,543.95 317.4,543.99 318,546.08 318.6,547.13 319.2,548.48 319.8,549.06 320.4,548.49 321,548.69 321.6,549.58 322.2,549.39 322.8,549.9 323.4,550.46 324,550.79 324.6,549.57 325.2,548.44 325.8,544.07 326.4,545.74 327,550.04 327.6,549.82 328.2,551.11 328.8,550.92 329.4,551.33 330,553.26 330.6,553.71 331.2,553.28 331.8,552.47 332.4,553.03 333,553.12 333.6,554.21 334.2,554.32 334.8,553.68 335.4,553.7 336,552.72 336.6,553.41 337.2,554.07 337.8,553.51 338.4,552.02 339,552.68 339.6,552.89 340.2,551.79 340.8,552.86 341.4,551.79 342,552.05 342.6,551.08 343.2,551.87 343.8,551.03 344.4,550.17 345,548.83 345.6,548.88 346.2,547.46 346.8,547.9 347.4,547.86 348,545.79 348.6,545.62 349.2,544.58 349.8,543.4 350.4,543.17 351,543.3 351.6,543.16 352.2,543.53 352.8,545.54 353.4,545.25 354,546.91 354.6,547.4 355.2,548.12 355.8,548.7 356.4,547.76 357,548.79 357.6,548.54 358.2,549.22 358.8,549.95 359.4,549.36 360,548.18 360.6,549.09 361.2,549.58 361.8,549.89 362.4,549.35 363,549.57 363.6,547.78 364.2,549.31 364.8,548.26 365.4,546.72 366,544.65 366.6,542.13 367.2,543.01 367.8,547.08 368.4,548.24 369,547.7 369.6,549.2 370.2,549.16 370.8,548.58 371.4,549.97 372,548.77 372.6,549.85 373.2,549.6 373.8,549.35 374.4,550.07 375,549.97 375.6,549.53 376.2,551.1 376.8,549.26 377.4,549.07 378,549.98 378.6,550.63 379.2,550.21 379.8,550.34 380.4,549.74 381,550.05 381.6,549.3 382.2,549.09 382.8,549.47 383.4,548.41 384,548.38 384.6,549.47 385.2,547.92 385.8,548.37 386.4,546.98 387,544.64 387.6,546.49 388.2,547.91 388.8,548.51 389.4,547.16 390,547.2 390.6,547.56 391.2,547.62 391.8,547.16 392.4,546.46 393,547.41 393.6,548.06 394.2,546.67 394.8,546.83 395.4,546.33 396,546.25 396.6,546.9 397.2,545.57 397.8,546.02 398.4,545.54 399,545.52 399.6,546.1 400.2,544.17 400.8,545.3 401.4,543.7 402,543.56 402.6,542.97 403.2,542.48 403.8,542.63 404.4,544.35 405,543.42 405.6,544.85" fill="none" stroke="#1e8a1e" stroke-width="1.9" stroke-linejoin="round"/>
</g>
<rect x="170.3" y="441.2" width="235.1" height="126.2" fill="none" stroke="#111" stroke-width="1.5"/>
<text x="343.4" y="457.9" font-size="6.8" text-anchor="start" fill="#111" stroke="#111">After Degradation</text>
<text x="343.6" y="471.5" font-size="7.0" fill="#111" stroke="#111">Ce@MnO<tspan font-size="5.6" dy="2.4">2</tspan><tspan dy="-2.4"> (40:60)</tspan></text>
<text x="335.8" y="533.9" font-size="7.4" text-anchor="start" fill="#111" stroke="#111">Before Degradation</text>
</svg>
</body></html>
